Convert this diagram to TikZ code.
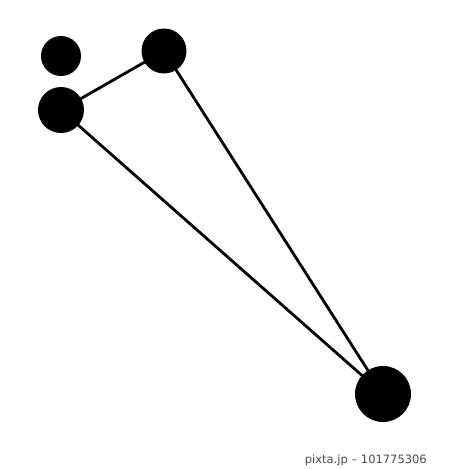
\documentclass[tikz,border=0pt]{standalone}
\usepackage{fontspec}
\setmainfont{DejaVu Sans}
\begin{document}
\begin{tikzpicture}[x=1pt,y=-1pt,
  star/.style={circle,fill=black,inner sep=0pt},
  link/.style={line width=2.8pt}]
\useasboundingbox[fill=white] (0,0) rectangle (450,469);
\node[star,minimum size=40pt] (a) at (61,56) {};
\node[star,minimum size=45pt] (b) at (164,51) {};
\node[star,minimum size=46pt] (c) at (61,110) {};
\node[star,minimum size=56pt] (d) at (383,394) {};
\draw[link] (c.center) -- (b.center);
\draw[link] (b.center) -- (d.center);
\draw[link] (c.center) -- (d.center);
\node[text=black!70,font=\fontsize{11.5}{13}\selectfont,anchor=east,inner sep=0pt] (w) at (427,460) {pixta.jp – 101775306};
\end{tikzpicture}
\end{document}
